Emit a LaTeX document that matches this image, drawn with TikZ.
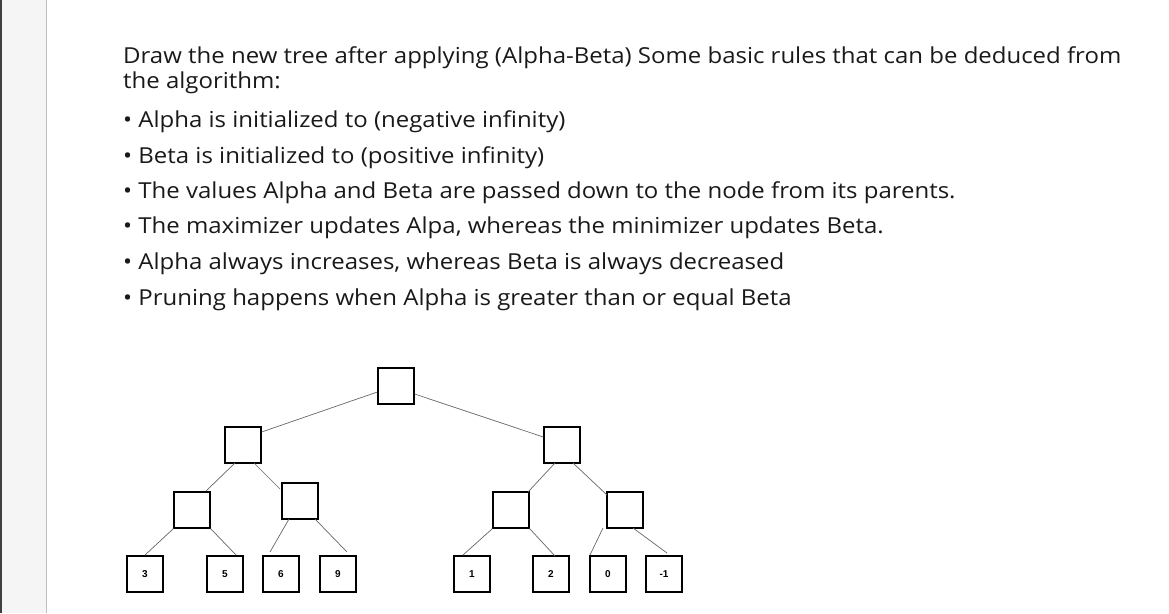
\documentclass[tikz,border=0pt]{standalone}
\usepackage{fontspec}
\setmainfont{Open Sans}[FakeStretch=1.09]
\newfontfamily\leaffont{Liberation Sans}
\begin{document}
\begin{tikzpicture}[x=1pt,y=-1pt,
  txt/.style={anchor=base west,inner sep=0,font=\fontsize{22}{25}\selectfont,text=black!90},
  box/.style={draw,line width=1.3pt,minimum width=36pt,minimum height=36pt,inner sep=0},
  leaf/.style={box,font=\leaffont\bfseries\fontsize{10}{11}\selectfont},
  edge/.style={draw=black!60,line width=0.7pt}]
\useasboundingbox (0,0) rectangle (1169,613);
\fill[black!75] (0,0) rectangle (2,613);
\fill[black!4] (2,0) rectangle (46,613);
\draw[black!25,line width=1.2pt] (46.5,0) -- (46.5,613);
\node[txt] (t1) at (123,63) {Draw the new tree after applying (Alpha-Beta) Some basic rules that can be deduced from};
\node[txt] (t2) at (123,88) {the algorithm:};
\node[txt] (b1) at (123,127) {• Alpha is initialized to (negative infinity)};
\node[txt] (b2) at (123,163) {• Beta is initialized to (positive infinity)};
\node[txt] (b3) at (123,198) {• The values Alpha and Beta are passed down to the node from its parents.};
\node[txt] (b4) at (123,233) {• The maximizer updates Alpa, whereas the minimizer updates Beta.};
\node[txt] (b5) at (123,269) {• Alpha always increases, whereas Beta is always decreased};
\node[txt] (b6) at (123,305) {• Pruning happens when Alpha is greater than or equal Beta};
% tree
\node[box] (r) at (396,386) {};
\node[box] (a) at (243,445) {};
\node[box] (b) at (562,445) {};
\node[box] (aa) at (192,510) {};
\node[box] (ab) at (300,501) {};
\node[box] (ba) at (511,510) {};
\node[box] (bb) at (625,510) {};
\node[leaf] (l1) at (145,574) {3};
\node[leaf] (l2) at (225,574) {5};
\node[leaf] (l3) at (281,574) {6};
\node[leaf] (l4) at (338,574) {9};
\node[leaf] (l5) at (472,574) {1};
\node[leaf] (l6) at (551,574) {2};
\node[leaf] (l7) at (608,574) {0};
\node[leaf] (l8) at (664,574) {-1};
\coordinate (e1) at (145,555);
\coordinate (e2) at (236,555);
\coordinate (e3) at (270,552);
\coordinate (e4) at (347,552);
\coordinate (e5) at (463,555);
\coordinate (e6) at (555,556);
\coordinate (e7) at (590,555);
\coordinate (e8) at (667,553);
\draw[edge] (r.west |- 0,392) -- (a.east |- 0,432);
\draw[edge] (r.east |- 0,394) -- (b.west |- 0,437);
\draw[edge] (235,463) -- (206,491);
\draw[edge] (254,463) -- (280,489);
\draw[edge] (555,463) -- (528,492);
\draw[edge] (573,463) -- (607,495);
\draw[edge] (aa.south west) -- (e1);
\draw[edge] (aa.south east) -- (e2);
\draw[edge] (289,519) -- (e3);
\draw[edge] (315,519) -- (e4);
\draw[edge] (ba.south west) -- (e5);
\draw[edge] (ba.south east) -- (e6);
\draw[edge] (603,528) -- (e7);
\draw[edge] (633,528) -- (e8);
\end{tikzpicture}
\end{document}
